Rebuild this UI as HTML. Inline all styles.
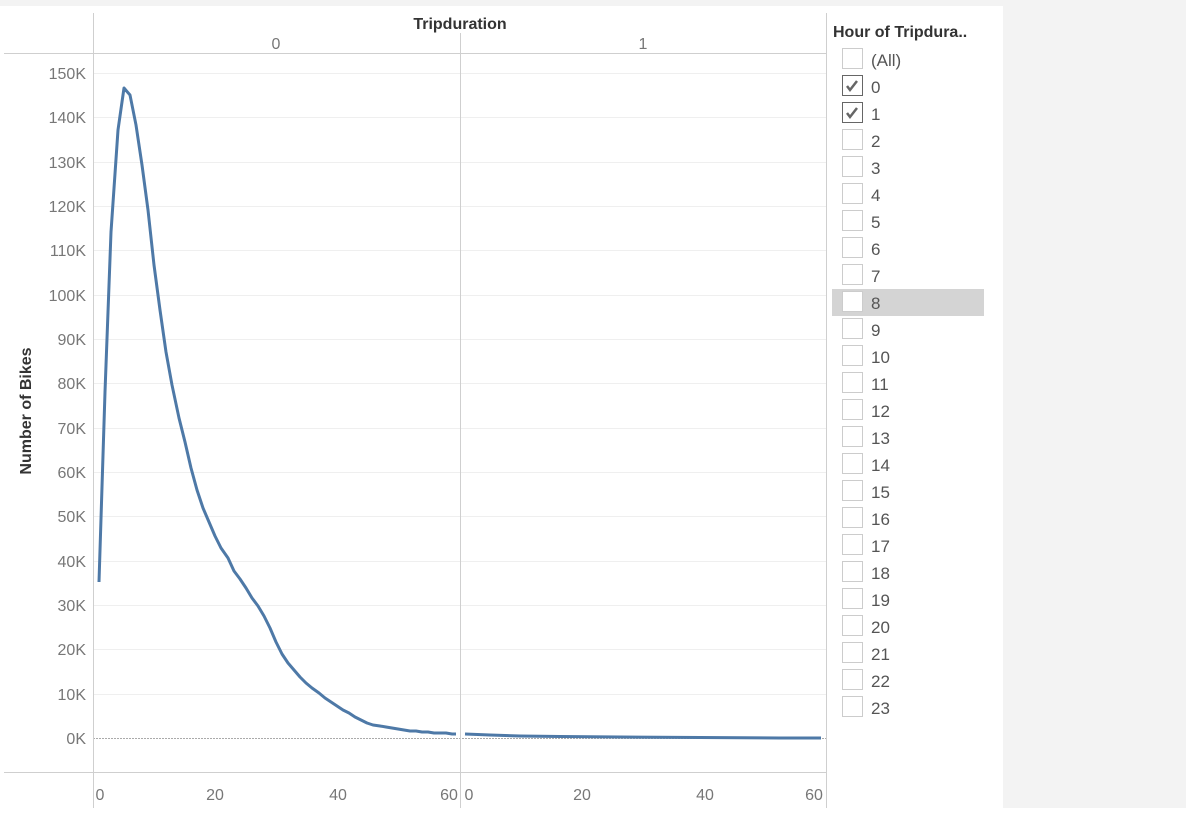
<!DOCTYPE html>
<html><head><meta charset="utf-8"><style>
body{margin:0;width:1186px;height:808px;overflow:hidden;background:#fff;font-family:"Liberation Sans",sans-serif}
</style></head><body>
<svg width="1186" height="808" xmlns="http://www.w3.org/2000/svg" font-family="Liberation Sans, sans-serif">
<rect x="0" y="0" width="1186" height="6" fill="#f3f3f3"/>
<rect x="1003" y="0" width="183" height="808" fill="#f3f3f3"/>
<g stroke="#efefef" stroke-width="1">
<line x1="93" x2="826" y1="73.5" y2="73.5"/><line x1="93" x2="826" y1="117.5" y2="117.5"/><line x1="93" x2="826" y1="162.5" y2="162.5"/><line x1="93" x2="826" y1="206.5" y2="206.5"/><line x1="93" x2="826" y1="250.5" y2="250.5"/><line x1="93" x2="826" y1="295.5" y2="295.5"/><line x1="93" x2="826" y1="339.5" y2="339.5"/><line x1="93" x2="826" y1="383.5" y2="383.5"/><line x1="93" x2="826" y1="428.5" y2="428.5"/><line x1="93" x2="826" y1="472.5" y2="472.5"/><line x1="93" x2="826" y1="516.5" y2="516.5"/><line x1="93" x2="826" y1="561.5" y2="561.5"/><line x1="93" x2="826" y1="605.5" y2="605.5"/><line x1="93" x2="826" y1="649.5" y2="649.5"/><line x1="93" x2="826" y1="694.5" y2="694.5"/>
</g>
<line x1="93" x2="826" y1="738.5" y2="738.5" stroke="#aaa" stroke-dasharray="2,1"/>
<g stroke="#cfcfcf" stroke-width="1">
<line x1="4" x2="826" y1="53.5" y2="53.5"/>
<line x1="4" x2="826" y1="772.5" y2="772.5"/>
<line x1="93.5" x2="93.5" y1="13" y2="808"/>
<line x1="460.5" x2="460.5" y1="33" y2="808"/>
<line x1="826.5" x2="826.5" y1="13" y2="808"/>
</g>
<text x="460" y="29" text-anchor="middle" font-size="16" font-weight="bold" fill="#333">Tripduration</text>
<text x="276" y="49" text-anchor="middle" font-size="16" fill="#777">0</text>
<text x="643" y="49" text-anchor="middle" font-size="16" fill="#777">1</text>
<g font-size="16" fill="#777" text-anchor="end">
<text x="86" y="79">150K</text><text x="86" y="123">140K</text><text x="86" y="168">130K</text><text x="86" y="212">120K</text><text x="86" y="256">110K</text><text x="86" y="301">100K</text><text x="86" y="345">90K</text><text x="86" y="389">80K</text><text x="86" y="434">70K</text><text x="86" y="478">60K</text><text x="86" y="522">50K</text><text x="86" y="567">40K</text><text x="86" y="611">30K</text><text x="86" y="655">20K</text><text x="86" y="700">10K</text><text x="86" y="744">0K</text>
</g>
<text transform="translate(31,411) rotate(-90)" text-anchor="middle" font-size="16" font-weight="bold" fill="#333">Number of Bikes</text>
<g font-size="16" fill="#777" text-anchor="middle">
<text x="100" y="800">0</text><text x="215" y="800">20</text><text x="338" y="800">40</text><text x="449" y="800">60</text>
<text x="469" y="800">0</text><text x="582" y="800">20</text><text x="705" y="800">40</text><text x="814" y="800">60</text>
</g>
<polyline fill="none" stroke="#4e79a7" stroke-width="3" stroke-linejoin="round" points="99,582 105,392 111,232 118,130 124,88 130,95 136,125 142,165 148,210 154,265 160,310 166,352 172,385 179,418 185,442 191,468 197,490 203,508 209,522 215,536 221,548 228,558 234,571 240,579 246,588 252,598 258,606 264,616 270,628 276,642 282,654 288,663 294,670 300,677 306,683 312,688 319,693 325,698 331,702 337,706 343,710 349,713 355,717 361,720 367,723 373,725 380,726 386,727 392,728 398,729 404,730 410,731 416,731 422,732 428,732 434,733 440,733 446,733 452,734 456,734"/>
<polyline fill="none" stroke="#4e79a7" stroke-width="3" points="465,734 490,735 520,736 560,736.5 620,737 700,737.5 780,738 821,738"/>
<text x="833" y="37" font-size="16" font-weight="bold" fill="#333">Hour of Tripdura..</text>
<rect x="832" y="289" width="152" height="27" fill="#d4d4d4"/>
<g font-size="17" fill="#555">
<rect x="842.5" y="48.5" width="20" height="20" fill="#fff" stroke="#ccc"/><text x="871" y="66">(All)</text>
<rect x="842.5" y="75.5" width="20" height="20" fill="#fff" stroke="#666"/><path d="M847 86 l3 4 l7 -9" stroke="#666" stroke-width="2.5" fill="none"/><text x="871" y="93">0</text>
<rect x="842.5" y="102.5" width="20" height="20" fill="#fff" stroke="#666"/><path d="M847 113 l3 4 l7 -9" stroke="#666" stroke-width="2.5" fill="none"/><text x="871" y="120">1</text>
<rect x="842.5" y="129.5" width="20" height="20" fill="#fff" stroke="#ccc"/><text x="871" y="147">2</text>
<rect x="842.5" y="156.5" width="20" height="20" fill="#fff" stroke="#ccc"/><text x="871" y="174">3</text>
<rect x="842.5" y="183.5" width="20" height="20" fill="#fff" stroke="#ccc"/><text x="871" y="201">4</text>
<rect x="842.5" y="210.5" width="20" height="20" fill="#fff" stroke="#ccc"/><text x="871" y="228">5</text>
<rect x="842.5" y="237.5" width="20" height="20" fill="#fff" stroke="#ccc"/><text x="871" y="255">6</text>
<rect x="842.5" y="264.5" width="20" height="20" fill="#fff" stroke="#ccc"/><text x="871" y="282">7</text>
<rect x="842.5" y="291.5" width="20" height="20" fill="#fff" stroke="#ccc"/><text x="871" y="309">8</text>
<rect x="842.5" y="318.5" width="20" height="20" fill="#fff" stroke="#ccc"/><text x="871" y="336">9</text>
<rect x="842.5" y="345.5" width="20" height="20" fill="#fff" stroke="#ccc"/><text x="871" y="363">10</text>
<rect x="842.5" y="372.5" width="20" height="20" fill="#fff" stroke="#ccc"/><text x="871" y="390">11</text>
<rect x="842.5" y="399.5" width="20" height="20" fill="#fff" stroke="#ccc"/><text x="871" y="417">12</text>
<rect x="842.5" y="426.5" width="20" height="20" fill="#fff" stroke="#ccc"/><text x="871" y="444">13</text>
<rect x="842.5" y="453.5" width="20" height="20" fill="#fff" stroke="#ccc"/><text x="871" y="471">14</text>
<rect x="842.5" y="480.5" width="20" height="20" fill="#fff" stroke="#ccc"/><text x="871" y="498">15</text>
<rect x="842.5" y="507.5" width="20" height="20" fill="#fff" stroke="#ccc"/><text x="871" y="525">16</text>
<rect x="842.5" y="534.5" width="20" height="20" fill="#fff" stroke="#ccc"/><text x="871" y="552">17</text>
<rect x="842.5" y="561.5" width="20" height="20" fill="#fff" stroke="#ccc"/><text x="871" y="579">18</text>
<rect x="842.5" y="588.5" width="20" height="20" fill="#fff" stroke="#ccc"/><text x="871" y="606">19</text>
<rect x="842.5" y="615.5" width="20" height="20" fill="#fff" stroke="#ccc"/><text x="871" y="633">20</text>
<rect x="842.5" y="642.5" width="20" height="20" fill="#fff" stroke="#ccc"/><text x="871" y="660">21</text>
<rect x="842.5" y="669.5" width="20" height="20" fill="#fff" stroke="#ccc"/><text x="871" y="687">22</text>
<rect x="842.5" y="696.5" width="20" height="20" fill="#fff" stroke="#ccc"/><text x="871" y="714">23</text>
</g>
</svg>
</body></html>
